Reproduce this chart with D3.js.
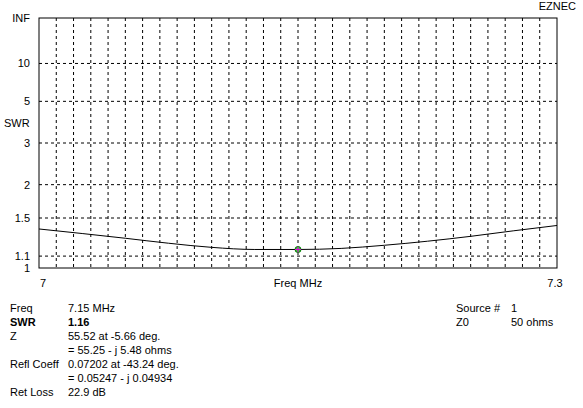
<!DOCTYPE html><html><head><meta charset="utf-8"><script src="https://cdn.jsdelivr.net/npm/d3@7"></script>
<style>body{margin:0;background:#fff}text{font-family:"Liberation Sans",Arial,sans-serif;font-size:11px;fill:#000}</style></head><body>
<svg id="c" width="583" height="408"></svg>
<script>
const freq=[7.0,7.025,7.05,7.075,7.10,7.125,7.15,7.175,7.2,7.225,7.25,7.275,7.3];
const swr=[1.37,1.32,1.27,1.22,1.18,1.16,1.16,1.17,1.20,1.24,1.29,1.35,1.41];
const yTicks=[1,1.1,1.5,2,3,5,10,Infinity];
const yTickLabels=["1","1.1","1.5","2","3","5","10","INF"];
const xGrid=d3.range(1,30).map(i=>7+i*0.01);
const markerF=7.15, markerS=1.16;
const infoL=[["Freq","7.15 MHz"],["SWR","1.16"],["Z","55.52 at -5.66 deg."],["","= 55.25 - j 5.48 ohms"],["Refl Coeff","0.07202 at -43.24 deg."],["","= 0.05247 - j 0.04934"],["Ret Loss","22.9 dB"]];
const infoR=[["Source #","1"],["Z0","50 ohms"]];
const rho=s=>s===Infinity?1:(s-1)/(s+1);
const svg=d3.select("#c");
const L=39,R=557,T=18,B=268;
const x=d3.scaleLinear().domain([7,7.3]).range([L,R]);
const y=d3.scaleLinear().domain([0,1]).range([B,T]);
const g=svg.append("g");
g.selectAll(".vx").data(xGrid).join("line").attr("x1",d=>x(d)).attr("x2",d=>x(d)).attr("y1",T).attr("y2",B).attr("stroke","#000").attr("stroke-dasharray","3,3");
g.selectAll(".hy").data(yTicks.slice(1,-1)).join("line").attr("x1",L).attr("x2",R).attr("y1",d=>y(rho(d))).attr("y2",d=>y(rho(d))).attr("stroke","#000").attr("stroke-dasharray","3,3");
g.append("rect").attr("x",L).attr("y",T).attr("width",R-L).attr("height",B-T).attr("fill","none").attr("stroke","#000");
g.selectAll(".yl").data(yTicks).join("text").attr("x",30).attr("y",d=>y(rho(d))+4).attr("text-anchor","end").text((d,i)=>yTickLabels[i]);
svg.append("text").attr("x",4).attr("y",127).text("SWR");
svg.append("text").attr("x",576).attr("y",10).attr("text-anchor","end").text("EZNEC");
svg.append("text").attr("x",x(7)+1).attr("y",287).text("7");
svg.append("text").attr("x",x(7.3)-2).attr("y",287).attr("text-anchor","middle").text("7.3");
svg.append("text").attr("x",x(7.15)).attr("y",287).attr("text-anchor","middle").text("Freq MHz");
const line=d3.line().x((d,i)=>x(freq[i])).y(d=>y(rho(d))).curve(d3.curveMonotoneX);
svg.append("path").attr("d",line(swr)).attr("fill","none").attr("stroke","#000");
const mx=x(markerF),my=y(rho(markerS));
svg.append("circle").attr("cx",mx).attr("cy",my).attr("r",3).attr("fill","#40c040").attr("stroke","#008000");
svg.append("path").attr("d",`M${mx-3},${my}H${mx+3}M${mx},${my-3}V${my+3}`).attr("stroke","#e000e0");
infoL.forEach((r,i)=>{const yy=312+i*14;
 svg.append("text").attr("x",10).attr("y",yy).attr("font-weight",i==1?"bold":null).text(r[0]);
 svg.append("text").attr("x",68).attr("y",yy).attr("font-weight",i==1?"bold":null).text(r[1]);});
infoR.forEach((r,i)=>{const yy=312+i*14;
 svg.append("text").attr("x",456).attr("y",yy).text(r[0]);
 svg.append("text").attr("x",511).attr("y",yy).text(r[1]);});
</script></body></html>
